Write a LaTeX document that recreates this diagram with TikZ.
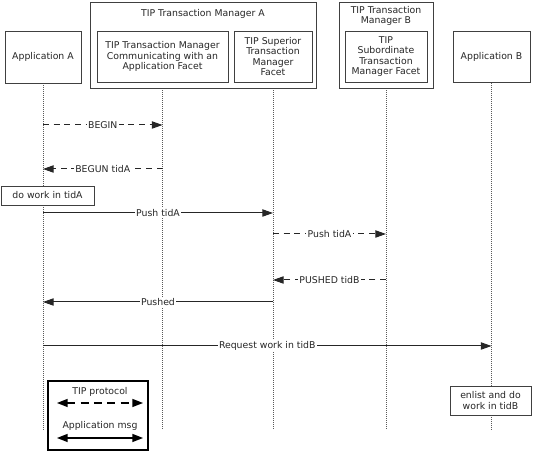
\documentclass[tikz,border=0pt]{standalone}
\usepackage{fontspec}
\setmainfont{DejaVu Sans}
\usetikzlibrary{arrows.meta}
\begin{document}
\begin{tikzpicture}[x=0.75pt,y=-0.75pt,
  every node/.style={font=\fontsize{7}{7.8}\selectfont, text=black!85},
  box/.style={draw=black!75, line width=0.6pt, fill=white, align=center, inner sep=0pt},
  life/.style={draw=black!65, line width=0.6pt, dash pattern=on 0.75pt off 0.75pt},
  msg/.style={draw=black!85, line width=0.75pt, -{Triangle[length=8pt,width=5.5pt]}},
  tipmsg/.style={msg, dash pattern=on 4.5pt off 3.5pt},
  lbl/.style={fill=white, inner sep=1pt},
  legarrow/.style={draw=black, line width=1.1pt, {Triangle[length=8pt,width=6pt]}-{Triangle[length=8pt,width=6pt]}}]
\useasboundingbox (0,0) rectangle (533,452);

% lifeline ends
\coordinate (aAend) at (43,430);
\coordinate (fAend) at (162.5,430);
\coordinate (sAend) at (273,430);
\coordinate (sBend) at (386,430);
\coordinate (aBend) at (491.5,430);

% box centres (for lifelines)
\coordinate (aAc) at (43,57);
\coordinate (fAc) at (162.5,56.5);
\coordinate (sAc) at (273,56.5);
\coordinate (sBc) at (386,56.5);
\coordinate (aBc) at (491.5,57);

% lifelines (drawn first, boxes cover them)
\draw[life] (aAc) -- (aAend);
\draw[life] (fAc) -- (fAend);
\draw[life] (sAc) -- (sAend);
\draw[life] (sBc) -- (sBend);
\draw[life] (aBc) -- (aBend);

% boxes
\node[box, minimum width=76*0.75pt, minimum height=52*0.75pt] (aA) at (aAc) {Application A};
\node[box, minimum width=226*0.75pt, minimum height=86*0.75pt] (tmA) at (203,45) {};
\node (tmAt) at (203,14) {TIP Transaction Manager A};
\node[box, minimum width=131*0.75pt, minimum height=51*0.75pt] (fA) at (fAc) {TIP Transaction Manager\\Communicating with an\\Application Facet};
\node[box, minimum width=78*0.75pt, minimum height=51*0.75pt] (sA) at (sAc) {TIP Superior\\Transaction\\Manager\\Facet};
\node[box, minimum width=94*0.75pt, minimum height=86*0.75pt] (tmB) at (386,45) {};
\node[align=center] (tmBt) at (386,16) {TIP Transaction\\Manager B};
\node[box, minimum width=82*0.75pt, minimum height=51*0.75pt] (sB) at (sBc) {TIP\\Subordinate\\Transaction\\Manager Facet};
\node[box, minimum width=77*0.75pt, minimum height=51*0.75pt] (aB) at (aBc) {Application B};

\node[box, minimum width=93*0.75pt, minimum height=19*0.75pt] (dw) at (47.5,195.5) {do work in tidA};
\node[box, minimum width=81*0.75pt, minimum height=29*0.75pt] (en) at (490.5,400.5) {enlist and do\\work in tidB};

% message rows
\coordinate (m1) at (0,125);
\coordinate (m2) at (0,169);
\coordinate (m3) at (0,213);
\coordinate (m4) at (0,234);
\coordinate (m5) at (0,280);
\coordinate (m6) at (0,302);
\coordinate (m7) at (0,346);

\draw[tipmsg] (aA |- m1) -- node[lbl]{BEGIN} (fA |- m1);
\draw[tipmsg] (fA |- m2) -- node[lbl]{BEGUN tidA} (aA |- m2);
\draw[msg] (aA |- m3) -- node[lbl]{Push tidA} (sA |- m3);
\draw[tipmsg] (sA |- m4) -- node[lbl]{Push tidA} (sB |- m4);
\draw[tipmsg] (sB |- m5) -- node[lbl]{PUSHED tidB} (sA |- m5);
\draw[msg] (sA |- m6) -- node[lbl]{Pushed} (aA |- m6);
\draw[msg] (aA |- m7) -- node[lbl]{Request work in tidB} (aB |- m7);

% legend
\node[draw=black, line width=1.5pt, fill=white, minimum width=100*0.75pt, minimum height=69*0.75pt, inner sep=0pt] (leg) at (98,415.5) {};
\node (legt1) at (100,392) {TIP protocol};
\node (legt2) at (100,426) {Application msg};
\coordinate (l1a) at (57,403);
\coordinate (l1b) at (143,403);
\coordinate (l2a) at (57,438);
\coordinate (l2b) at (143,438);
\draw[legarrow, dash pattern=on 6pt off 4pt] (l1a) -- (l1b);
\draw[legarrow] (l2a) -- (l2b);
\end{tikzpicture}
\end{document}
